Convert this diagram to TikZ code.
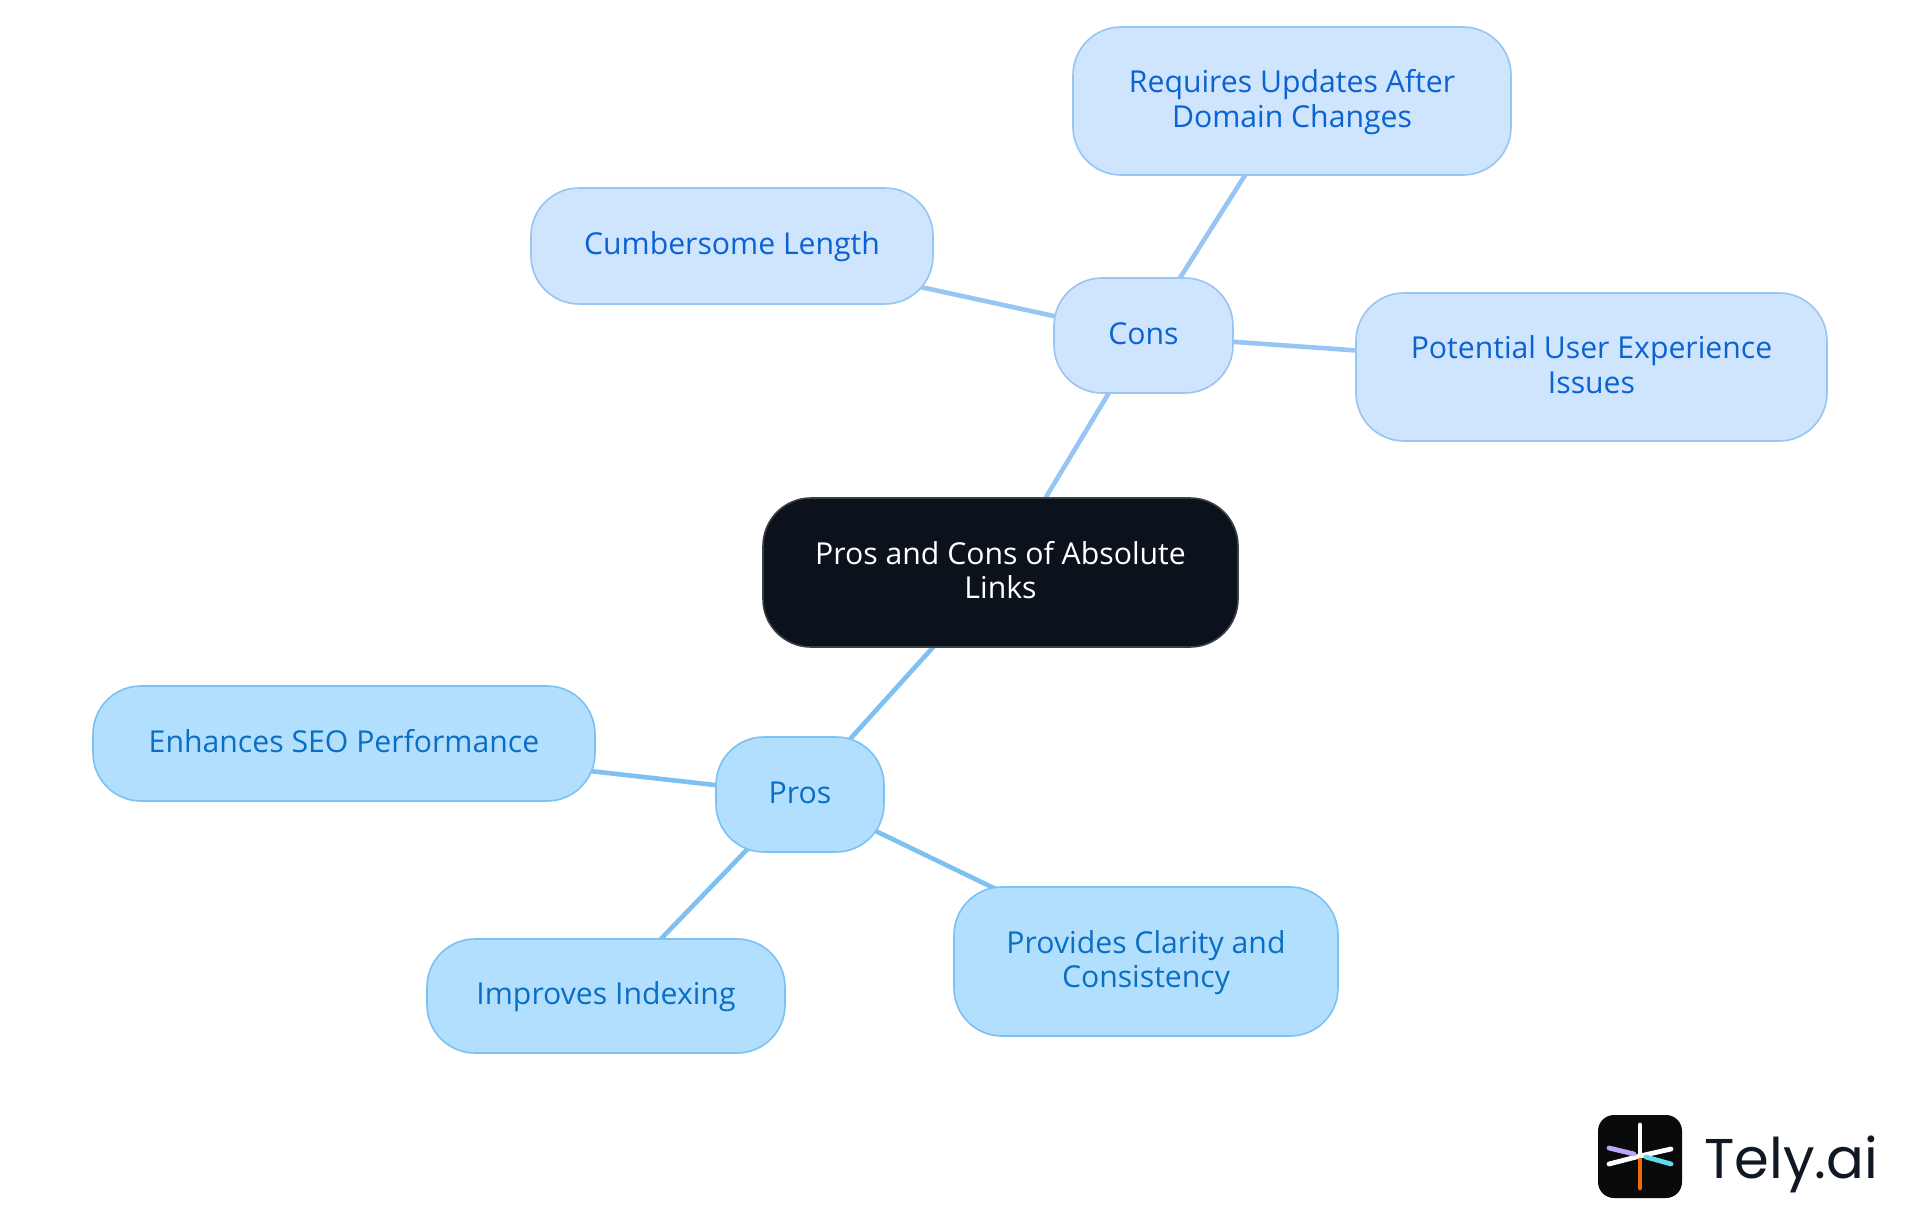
\documentclass[tikz,border=0pt]{standalone}
\usepackage{fontspec}
\setmainfont{Open Sans}
\newfontfamily\logofont{Poppins}
\usetikzlibrary{backgrounds}
\definecolor{consfill}{HTML}{CFE4FD}
\definecolor{consline}{HTML}{97C5F4}
\definecolor{constext}{HTML}{0B63D1}
\definecolor{prosfill}{HTML}{B3DFFF}
\definecolor{prosline}{HTML}{7CC1F1}
\definecolor{prostext}{HTML}{0A6EC4}
\definecolor{rootfill}{HTML}{0B121B}
\definecolor{rootline}{HTML}{3A3F45}
\definecolor{logotext}{HTML}{101824}
\definecolor{logoblack}{HTML}{0A0A0A}
\tikzset{
  x=1pt,y=-1pt,
  mapbox/.style={rounded corners=48pt,line width=1.6pt,inner sep=0pt,align=center,
    font=\fontsize{30.2}{34.4}\selectfont},
  oneline/.style={text height=21pt,text depth=4pt},
  twoline/.style={text height=60pt,text depth=8pt},
  consbox/.style={mapbox,fill=consfill,draw=consline,text=constext},
  prosbox/.style={mapbox,fill=prosfill,draw=prosline,text=prostext},
  rootbox/.style={mapbox,fill=rootfill,draw=rootline,text=white},
  consedge/.style={draw=consline,line width=4.6pt},
  prosedge/.style={draw=prosline,line width=4.6pt},
  spoke/.style={line width=4.8pt,line cap=round},
}
\newcommand{\mapnode}[7]{%
  \node[#2,minimum width=#5pt-#3pt,minimum height=#6pt-#4pt] (#1) at ({(#3+#5)/2},{(#4+#6)/2}) {#7};}
\begin{document}
\begin{tikzpicture}
\useasboundingbox (0,0) rectangle (1920,1215);
\mapnode{root}{rootbox,twoline}{763}{498}{1238}{647}{Pros and Cons of Absolute\\Links}
\mapnode{cons}{consbox,oneline}{1054}{278}{1233}{393}{Cons}
\mapnode{req}{consbox,twoline}{1073}{27}{1511}{175}{Requires Updates After\\Domain Changes}
\mapnode{cum}{consbox,oneline}{531}{188}{933}{304}{Cumbersome Length}
\mapnode{pot}{consbox,twoline}{1356}{293}{1827}{441}{Potential User Experience\\Issues}
\mapnode{pros}{prosbox,oneline}{716}{737}{884}{852}{Pros}
\mapnode{enh}{prosbox,oneline}{93}{686}{595}{801}{Enhances SEO Performance}
\mapnode{imp}{prosbox,oneline}{427}{939}{785}{1053}{Improves Indexing}
\mapnode{prv}{prosbox,twoline}{954}{887}{1338}{1036}{Provides Clarity and\\Consistency}
\begin{pgfonlayer}{background}
\fill[white] (0,0) rectangle (1920,1215);
\draw[consedge] (root.center) -- (cons.center);
\draw[consedge] (cons.center) -- (req.center);
\draw[consedge] (cons.center) -- (cum.center);
\draw[consedge] (cons.center) -- (pot.center);
\draw[prosedge] (root.center) -- (pros.center);
\draw[prosedge] (pros.center) -- (enh.center);
\draw[prosedge] (pros.center) -- (imp.center);
\draw[prosedge] (pros.center) -- (prv.center);
\end{pgfonlayer}
\fill[logoblack,rounded corners=16pt] (1598,1115) rectangle (1682,1198);
\coordinate (hub) at (1640,1156);
\draw[spoke,white] (hub) -- (1640,1125);
\draw[spoke,white] (hub) -- (1609,1164);
\draw[spoke,white] (hub) -- (1671,1149);
\draw[spoke,color={rgb,255:red,190;green,165;blue,245}] (1634,1154) -- (1609,1148);
\draw[spoke,color={rgb,255:red,95;green,220;blue,240}] (1646,1157) -- (1671,1164);
\draw[spoke,color={rgb,255:red,240;green,105;blue,10}] (1640,1160) -- (1640,1188);
\node[anchor=base west,inner sep=0pt,text=logotext,font=\logofont\fontsize{56}{56}\selectfont] (logo) at (1704,1178) {Tely.ai};
\end{tikzpicture}
\end{document}
